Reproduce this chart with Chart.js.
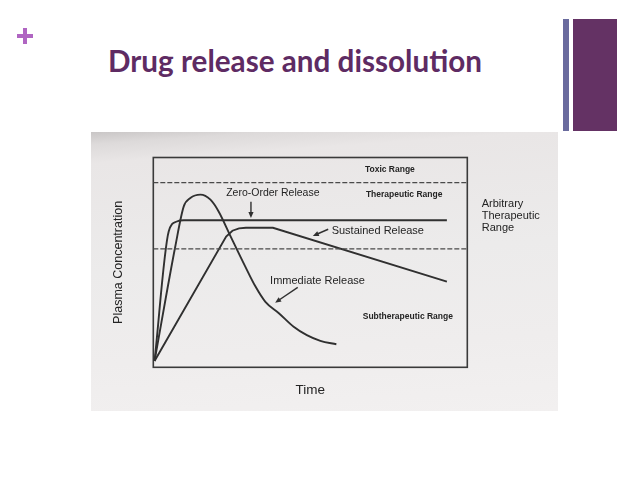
<!DOCTYPE html>
<html>
<head>
<meta charset="utf-8">
<script src="https://cdn.jsdelivr.net/npm/chart.js@4.4.1/dist/chart.umd.min.js"></script>
<style>
  html, body { margin: 0; padding: 0; background: #fff; }
  body { width: 638px; height: 478px; position: relative; overflow: hidden; }
  .plus-h { position: absolute; left: 17px; top: 34px; width: 16px; height: 4px; background: #b065c2; }
  .plus-v { position: absolute; left: 23px; top: 28px; width: 4px; height: 16px; background: #b065c2; }
  #title { position: absolute; left: 108px; top: 42px; font: bold 30px Lato, "Open Sans", sans-serif; color: #5e2b63; white-space: nowrap; transform-origin: 0 0; }
  .bar-thin { position: absolute; left: 563px; top: 19px; width: 6px; height: 112px; background: #6a6b9e; }
  .bar-wide { position: absolute; left: 573px; top: 19px; width: 44px; height: 112px; background: #643264; }
  #scan { position: absolute; left: 91px; top: 132px; width: 467px; height: 279px;
    background: linear-gradient(176deg, #c9c6c6 0%, #dddada 4%, #e9e6e6 10%, #ecebeb 45%, #efeded 75%, #f2f0f0 100%); }
  #scan canvas { position: absolute; left: 0; top: 0; }
</style>
</head>
<body>
<div class="plus-h"></div><div class="plus-v"></div>
<div id="title">Drug release and dissolution</div>
<div class="bar-thin"></div><div class="bar-wide"></div>
<div id="scan"><canvas id="releaseChart" width="467" height="279"></canvas></div>
<script>
// curves (time and concentration on a 0-100 frame)
var zeroOrderTime = [0.4, 4.9, 7.5, 9.7, 93.5];
var zeroOrderConc = [3, 64.7, 69.5, 70.1, 70.1];

var immediateTime = [0.4, 7.0, 9.7, 11.8, 15.0, 18.2, 20.8, 24.5, 29.3, 32.5, 35.7, 39.9, 44.7, 48.9, 53.2, 58.3];
var immediateConc = [3, 57.6, 76.7, 80.7, 82.3, 79.9, 74.3, 62.8, 48.0, 38.6, 31.2, 25.9, 19.3, 15.3, 12.6, 11.0];

var sustainedTime = [0.4, 23.2, 25.2, 27.3, 29.5, 38.1, 93.5];
var sustainedConc = [3, 62.3, 65.1, 66.2, 66.5, 66.5, 40.8];

// range limits
var toxicLimit = 88.0;
var subtherapeuticLimit = 56.4;

// arrows: [fromX, fromY, toX, toY]
var arrowZeroOrder = [31.1, 78.9, 31.1, 71.2];
var arrowSustained = [55.7, 65.8, 50.8, 62.6];
var arrowImmediate = [46.0, 38.1, 38.8, 30.8];

// annotation text and where it sits
var noteText = ["Toxic Range", "Therapeutic Range", "Zero-Order Release", "Sustained Release",
  "Immediate Release", "Subtherapeutic Range", "Arbitrary", "Therapeutic", "Range"];
var noteX = [67.4, 67.7, 23.2, 56.8, 37.2, 66.7, 104.6, 104.6, 104.6];
var noteY = [94.1, 82.5, 82.9, 65.0, 41.3, 24.1, 77.8, 72.1, 66.3];
var noteSize = [8.5, 8.5, 10.5, 11, 11, 8.5, 11, 11, 11];
var noteBold = [true, true, false, false, false, true, false, false, false];

var ink = "#303030";

function pts(xs, ys) {
  return xs.map(function(x, i) { return {x: x, y: ys[i]}; });
}

var frameAndNotes = {
  id: "frameAndNotes",
  beforeDatasetsDraw: function(chart) {
    var a = chart.chartArea, ctx = chart.ctx;
    ctx.save();
    ctx.strokeStyle = "#3a3a3a";
    ctx.lineWidth = 1.6;
    ctx.strokeRect(a.left, a.top, a.right - a.left, a.bottom - a.top);
    ctx.restore();
  },
  afterDatasetsDraw: function(chart) {
    var ctx = chart.ctx, sx = chart.scales.x, sy = chart.scales.y;
    ctx.save();
    ctx.fillStyle = "#242424";
    ctx.textAlign = "left";
    ctx.textBaseline = "middle";
    noteText.forEach(function(t, i) {
      ctx.font = (noteBold[i] ? "bold " : "") + noteSize[i] + "px 'Liberation Sans', Arial, sans-serif";
      ctx.fillText(t, sx.getPixelForValue(noteX[i]), sy.getPixelForValue(noteY[i]));
    });
    [arrowZeroOrder, arrowSustained, arrowImmediate].forEach(function(ar) {
      var x1 = sx.getPixelForValue(ar[0]), y1 = sy.getPixelForValue(ar[1]);
      var x2 = sx.getPixelForValue(ar[2]), y2 = sy.getPixelForValue(ar[3]);
      var ang = Math.atan2(y2 - y1, x2 - x1);
      ctx.strokeStyle = ink;
      ctx.lineWidth = 1.4;
      ctx.beginPath();
      ctx.moveTo(x1, y1);
      ctx.lineTo(x2 - 3 * Math.cos(ang), y2 - 3 * Math.sin(ang));
      ctx.stroke();
      ctx.fillStyle = ink;
      ctx.beginPath();
      ctx.moveTo(x2, y2);
      ctx.lineTo(x2 - 6 * Math.cos(ang) + 2.6 * Math.sin(ang), y2 - 6 * Math.sin(ang) - 2.6 * Math.cos(ang));
      ctx.lineTo(x2 - 6 * Math.cos(ang) - 2.6 * Math.sin(ang), y2 - 6 * Math.sin(ang) + 2.6 * Math.cos(ang));
      ctx.closePath();
      ctx.fill();
    });
    ctx.restore();
  }
};

var curve = function(label, xs, ys, smooth) {
  return {
    label: label,
    data: pts(xs, ys),
    borderColor: ink,
    borderWidth: 1.9,
    pointRadius: 0,
    cubicInterpolationMode: smooth ? "monotone" : "default",
    tension: 0,
    fill: false
  };
};

var limit = function(label, y) {
  return {
    label: label,
    data: [{x: 0, y: y}, {x: 100, y: y}],
    borderColor: "#4a4a4a",
    borderWidth: 1.3,
    borderDash: [5, 2],
    pointRadius: 0,
    fill: false
  };
};

new Chart(document.getElementById("releaseChart"), {
  type: "line",
  data: {
    datasets: [
      limit("Toxic limit", toxicLimit),
      limit("Subtherapeutic limit", subtherapeuticLimit),
      curve("Zero-Order Release", zeroOrderTime, zeroOrderConc, true),
      curve("Immediate Release", immediateTime, immediateConc, true),
      curve("Sustained Release", sustainedTime, sustainedConc, false)
    ]
  },
  options: {
    responsive: false,
    animation: false,
    layout: { padding: { left: 0, top: 25.5, right: 90.7, bottom: 0 } },
    plugins: { legend: { display: false }, tooltip: { enabled: false } },
    scales: {
      x: {
        type: "linear", min: 0, max: 100,
        grid: { display: false }, border: { display: false },
        ticks: { display: false },
        title: { display: true, text: "Time", color: "#242424",
          font: { family: "'Liberation Sans', Arial, sans-serif", size: 13.5 },
          padding: { top: 0, bottom: 13 } },
        afterFit: function(s) { s.height = 43.7; }
      },
      y: {
        type: "linear", min: 0, max: 100,
        grid: { display: false }, border: { display: false },
        ticks: { display: false },
        title: { display: true, text: "Plasma Concentration", color: "#242424",
          font: { family: "'Liberation Sans', Arial, sans-serif", size: 12.5 },
          padding: { top: 19.8, bottom: 0 } },
        afterFit: function(s) { s.width = 62.3; }
      }
    }
  },
  plugins: [frameAndNotes]
});

// squeeze the title to the slide's width
var t = document.getElementById("title");
var w = t.getBoundingClientRect().width;
t.style.transform = "scaleX(" + (374 / w) + ")";
</script>
</body>
</html>
